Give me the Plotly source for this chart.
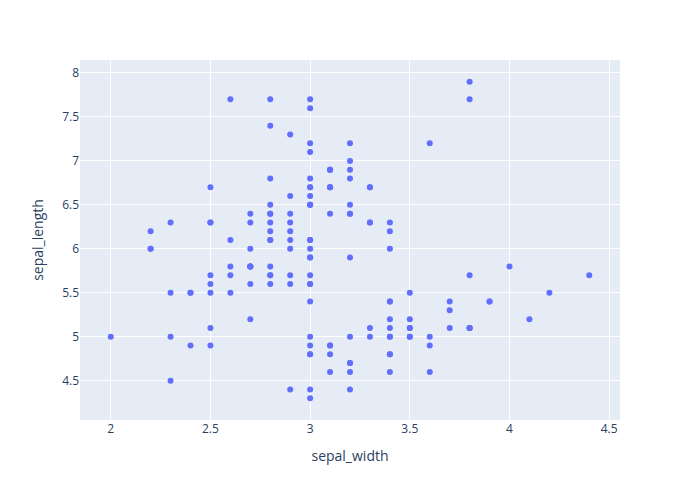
import plotly.express as px
import pandas as pd

sepal_length = [5.1,4.9,4.7,4.6,5.0,5.4,4.6,5.0,4.4,4.9,5.4,4.8,4.8,4.3,5.8,5.7,5.4,5.1,5.7,5.1,
                5.4,5.1,4.6,5.1,4.8,5.0,5.0,5.2,5.2,4.7,4.8,5.4,5.2,5.5,4.9,5.0,5.5,4.9,4.4,5.1,
                5.0,4.5,4.4,5.0,5.1,4.8,5.1,4.6,5.3,5.0,7.0,6.4,6.9,5.5,6.5,5.7,6.3,4.9,6.6,5.2,
                5.0,5.9,6.0,6.1,5.6,6.7,5.6,5.8,6.2,5.6,5.9,6.1,6.3,6.1,6.4,6.6,6.8,6.7,6.0,5.7,
                5.5,5.5,5.8,6.0,5.4,6.0,6.7,6.3,5.6,5.5,5.5,6.1,5.8,5.0,5.6,5.7,5.7,6.2,5.1,5.7,
                6.3,5.8,7.1,6.3,6.5,7.6,4.9,7.3,6.7,7.2,6.5,6.4,6.8,5.7,5.8,6.4,6.5,7.7,7.7,6.0,
                6.9,5.6,7.7,6.3,6.7,7.2,6.2,6.1,6.4,7.2,7.4,7.9,6.4,6.3,6.1,7.7,6.3,6.4,6.0,6.9,
                6.7,6.9,5.8,6.8,6.7,6.7,6.3,6.5,6.2,5.9]
sepal_width = [3.5,3.0,3.2,3.1,3.6,3.9,3.4,3.4,2.9,3.1,3.7,3.4,3.0,3.0,4.0,4.4,3.9,3.5,3.8,3.8,
               3.4,3.7,3.6,3.3,3.4,3.0,3.4,3.5,3.4,3.2,3.1,3.4,4.1,4.2,3.1,3.2,3.5,3.6,3.0,3.4,
               3.5,2.3,3.2,3.5,3.8,3.0,3.8,3.2,3.7,3.3,3.2,3.2,3.1,2.3,2.8,2.8,3.3,2.4,2.9,2.7,
               2.0,3.0,2.2,2.9,2.9,3.1,3.0,2.7,2.2,2.5,3.2,2.8,2.5,2.8,2.9,3.0,2.8,3.0,2.9,2.6,
               2.4,2.4,2.7,2.7,3.0,3.4,3.1,2.3,3.0,2.5,2.6,3.0,2.6,2.3,2.7,3.0,2.9,2.9,2.5,2.8,
               3.3,2.7,3.0,2.9,3.0,3.0,2.5,2.9,2.5,3.6,3.2,2.7,3.0,2.5,2.8,3.2,3.0,3.8,2.6,2.2,
               3.2,2.8,2.8,2.7,3.3,3.2,2.8,3.0,2.8,3.0,2.8,3.8,2.8,2.8,2.6,3.0,3.4,3.1,3.0,3.1,
               3.1,3.1,2.7,3.2,3.3,3.0,2.5,3.0,3.4,3.0]

df = pd.DataFrame({"sepal_width": sepal_width, "sepal_length": sepal_length})
fig = px.scatter(df, x="sepal_width", y="sepal_length")
fig.update_layout(width=700, height=500)
fig.write_html("out.html", config={"displayModeBar": False},
               post_script="document.body.style.margin='0';")
